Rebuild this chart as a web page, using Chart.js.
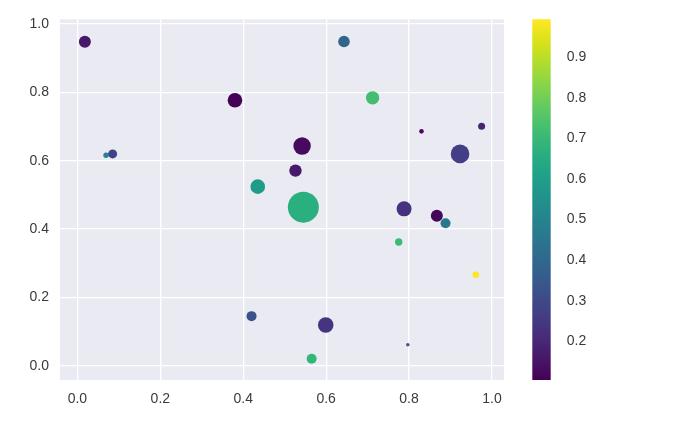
<!DOCTYPE html>
<html>
<head>
<meta charset="utf-8">
<script src="https://cdn.jsdelivr.net/npm/chart.js@4/dist/chart.umd.min.js"></script>
<style>
  html, body { margin: 0; padding: 0; background: #ffffff; }
  #wrap { position: relative; width: 682px; height: 424px; }
  #main { position: absolute; left: 0; top: 0; width: 682px; height: 424px; }
  #cbar { position: absolute; left: 520px; top: 0; width: 162px; height: 424px; }
</style>
</head>
<body>
<div id="wrap">
  <div id="main"><canvas id="c1"></canvas></div>
  <div id="cbar"><canvas id="c2"></canvas></div>
</div>
<script>
// ---- data ----
const xVals = [0.018, 0.380, 0.542, 0.526, 0.435, 0.545, 0.069, 0.085, 0.643, 0.712, 0.830,
               0.975, 0.923, 0.788, 0.867, 0.888, 0.775, 0.961, 0.599, 0.797, 0.565, 0.420];
const yVals = [0.948, 0.777, 0.643, 0.571, 0.524, 0.464, 0.616, 0.620, 0.949, 0.784, 0.686,
               0.701, 0.620, 0.459, 0.439, 0.417, 0.362, 0.266, 0.119, 0.061, 0.020, 0.145];
const colorVals = [0.16, 0.11, 0.13, 0.16, 0.585, 0.665, 0.505, 0.28, 0.39, 0.72, 0.13,
                   0.19, 0.265, 0.23, 0.12, 0.46, 0.71, 0.99, 0.24, 0.33, 0.69, 0.33];
const sizes = [144, 213, 303, 154, 213, 961, 29, 81, 135, 180, 21,
               49, 346, 225, 144, 100, 55, 44, 243, 12, 100, 100];
const xTicks = [0.0, 0.2, 0.4, 0.6, 0.8, 1.0];
const yTicks = [0.0, 0.2, 0.4, 0.6, 0.8, 1.0];
const cbTicks = [0.2, 0.3, 0.4, 0.5, 0.6, 0.7, 0.8, 0.9];
const cMin = 0.105, cMax = 0.993;

// ---- viridis colormap ----
const viridis = ['#440154','#48186a','#472d7b','#424086','#3b528b','#33638d','#2c728e','#26828e',
                 '#21918c','#1fa088','#28ae80','#3fbc73','#5ec962','#84d44b','#addc30','#d8e219','#fde725'];
function hex2rgb(h){ return [parseInt(h.slice(1,3),16), parseInt(h.slice(3,5),16), parseInt(h.slice(5,7),16)]; }
function cmap(t){
  t = Math.max(0, Math.min(1, t));
  const n = viridis.length - 1;
  const p = t * n, i = Math.min(Math.floor(p), n - 1), f = p - i;
  const a = hex2rgb(viridis[i]), b = hex2rgb(viridis[i+1]);
  const c = a.map((v,k)=>Math.round(v + (b[k]-v)*f));
  return `rgb(${c[0]},${c[1]},${c[2]})`;
}
const norm = v => (v - cMin) / (cMax - cMin);

const points = xVals.map((x,i)=>({x: x, y: yVals[i], r: Math.sqrt(sizes[i]) / 2}));
const pointColors = colorVals.map(v => cmap(norm(v)));

const FONT = {family: "'Liberation Sans', Arial, sans-serif", size: 14};
const TICKCOLOR = '#3a3a3a';

function noPad(s){ s.paddingTop = 0; s.paddingBottom = 0; s.paddingLeft = 0; s.paddingRight = 0; }

const plotBg = {
  id: 'plotBg',
  beforeDraw(chart){
    const {ctx, chartArea: a} = chart;
    ctx.save();
    ctx.fillStyle = '#EAEAF2';
    ctx.fillRect(a.left, a.top, a.right - a.left, a.bottom - a.top);
    ctx.restore();
  }
};

new Chart(document.getElementById('c1'), {
  type: 'bubble',
  data: {
    datasets: [{
      data: points,
      backgroundColor: pointColors,
      borderColor: pointColors,
      borderWidth: 0,
      hoverBorderWidth: 0
    }]
  },
  options: {
    responsive: true,
    maintainAspectRatio: false,
    animation: false,
    events: [],
    layout: { padding: { left: 0, top: 19.3, right: 178, bottom: 0 } },
    plugins: { legend: { display: false }, tooltip: { enabled: false } },
    scales: {
      x: {
        type: 'linear',
        min: -0.042, max: 1.029,
        afterFit(s){ s.height = 44; noPad(s); },
        afterBuildTicks(s){ s.ticks = xTicks.map(v => ({value: v})); },
        grid: { color: '#ffffff', lineWidth: 1.3, drawTicks: false },
        border: { display: false },
        ticks: { font: FONT, color: TICKCOLOR, padding: 11, maxRotation: 0,
                 callback: v => Number(v).toFixed(1) }
      },
      y: {
        type: 'linear',
        min: -0.042, max: 1.014,
        afterFit(s){ s.width = 60; noPad(s); },
        afterBuildTicks(s){ s.ticks = yTicks.map(v => ({value: v})); },
        grid: { color: '#ffffff', lineWidth: 1.3, drawTicks: false },
        border: { display: false },
        ticks: { font: FONT, color: TICKCOLOR, padding: 11,
                 callback: v => Number(v).toFixed(1) }
      }
    }
  },
  plugins: [plotBg]
});

// ---- colorbar ----
new Chart(document.getElementById('c2'), {
  type: 'bar',
  data: {
    labels: [''],
    datasets: [{
      data: [[cMin, cMax]],
      borderWidth: 0,
      borderSkipped: false,
      categoryPercentage: 1.0,
      barPercentage: 1.0,
      backgroundColor(ctx){
        const chart = ctx.chart;
        const a = chart.chartArea;
        if (!a) return '#440154';
        const ys = chart.scales.y;
        const y0 = ys.getPixelForValue(cMin), y1 = ys.getPixelForValue(cMax);
        const g = chart.ctx.createLinearGradient(0, y0, 0, y1);
        viridis.forEach((c,i)=> g.addColorStop(i/(viridis.length-1), c));
        return g;
      }
    }]
  },
  options: {
    responsive: true,
    maintainAspectRatio: false,
    animation: false,
    events: [],
    layout: { padding: { left: 12.3, top: 19.3, right: 0, bottom: 44 } },
    plugins: { legend: { display: false }, tooltip: { enabled: false } },
    scales: {
      x: { display: false },
      y: {
        position: 'right',
        type: 'linear',
        min: cMin, max: cMax,
        afterFit(s){ s.width = 162 - 12.3 - 18.4; noPad(s); },
        afterBuildTicks(s){ s.ticks = cbTicks.map(v => ({value: v})); },
        grid: { display: false, drawTicks: false },
        border: { display: false },
        ticks: { font: FONT, color: TICKCOLOR, padding: 16,
                 callback: v => Number(v).toFixed(1) }
      }
    }
  }
});
</script>
</body>
</html>
